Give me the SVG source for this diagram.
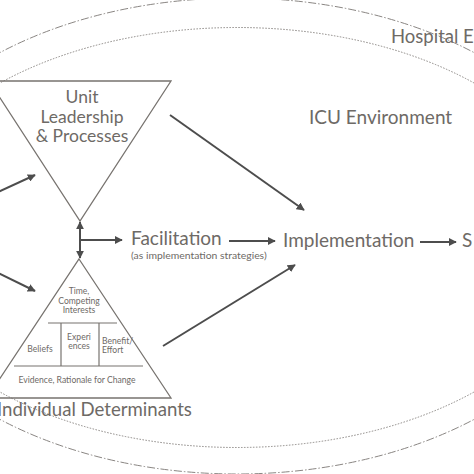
<svg xmlns="http://www.w3.org/2000/svg" width="474" height="474" viewBox="0 0 474 474">
<defs>
<marker id="ah" viewBox="0 0 10 10" refX="9" refY="5" markerWidth="4" markerHeight="4" orient="auto-start-reverse" markerUnits="strokeWidth">
<path d="M0,0 L10,5 L0,10 z" fill="#4d4d4d"/>
</marker>
</defs>
<style>
.t{font-family:Lato,"Open Sans","Liberation Sans",sans-serif;fill:#6e6a66}
.big{font-size:19px}
.sm{font-size:8.6px;text-anchor:middle}
.sml{font-size:8.6px;text-anchor:start}
.tri{fill:none;stroke:#77736f;stroke-width:1.3}
.div{stroke:#77736f;stroke-width:1.2}
.arr{stroke:#4d4d4d;stroke-width:2;fill:none;marker-end:url(#ah)}
.env{fill:none;stroke:#8a8683;stroke-width:1}
</style>
<rect width="474" height="474" fill="#ffffff"/>
<g id="hospital">
<ellipse class="env" cx="237" cy="236" rx="372" ry="238" stroke-dasharray="8 2 1.5 2"/>
<text class="t" font-size="18.5" x="391" y="43">Hospital E</text>
</g>
<g id="icu">
<ellipse class="env" cx="237" cy="237.5" rx="350" ry="210" stroke-dasharray="1.5 1.5"/>
<text class="t big" x="309" y="124">ICU Environment</text>
</g>
<g id="unit">
<polygon class="tri" points="-11,81 171,81 80,221"/>
<text class="t" font-size="17.5" text-anchor="middle"><tspan x="82" y="103">Unit</tspan><tspan x="82" y="123">Leadership</tspan><tspan x="82" y="142">&amp; Processes</tspan></text>
</g>
<g id="individual">
<polygon class="tri" points="79,259 171,398 -13,398"/>
<line class="div" x1="48" y1="323" x2="117" y2="323"/>
<line class="div" x1="14" y1="366" x2="143" y2="366"/>
<line class="div" x1="61" y1="323" x2="61" y2="366"/>
<line class="div" x1="99" y1="323" x2="99" y2="366"/>
<text class="t sm"><tspan x="79" y="294">Time,</tspan><tspan x="79" y="303.5">Competing</tspan><tspan x="79" y="313">Interests</tspan></text>
<text class="t sm" x="40" y="352">Beliefs</text>
<text class="t sm"><tspan x="79" y="340">Experi</tspan><tspan x="79" y="349">ences</tspan></text>
<text class="t sml"><tspan x="102" y="344">Benefit/</tspan><tspan x="102" y="353">Effort</tspan></text>
<text class="t sm" x="77" y="383">Evidence, Rationale for Change</text>
<text class="t" font-size="18.6" x="-3" y="416">Individual Determinants</text>
</g>
<g id="facilitation">
<text class="t big" x="131" y="245">Facilitation</text>
<text class="t" font-size="10.4" x="131" y="259">(as implementation strategies)</text>
</g>
<g id="implementation">
<text class="t big" x="283" y="247">Implementation</text>
</g>
<g id="sustain">
<text class="t big" x="462" y="247">S</text>
</g>
<g id="connectors">
<line class="arr" x1="80" y1="240" x2="80" y2="222"/>
<line class="arr" x1="80" y1="238" x2="80" y2="258"/>
<line class="arr" x1="80" y1="240" x2="122" y2="240"/>
<line class="arr" x1="229" y1="241" x2="275" y2="241"/>
<line class="arr" x1="420" y1="242" x2="456" y2="242"/>
<line class="arr" x1="170" y1="115" x2="304" y2="210"/>
<line class="arr" x1="163" y1="346" x2="295" y2="265"/>
<line class="arr" x1="-2" y1="192" x2="35" y2="175"/>
<line class="arr" x1="-2" y1="273" x2="35" y2="291"/>
</g>
</svg>
